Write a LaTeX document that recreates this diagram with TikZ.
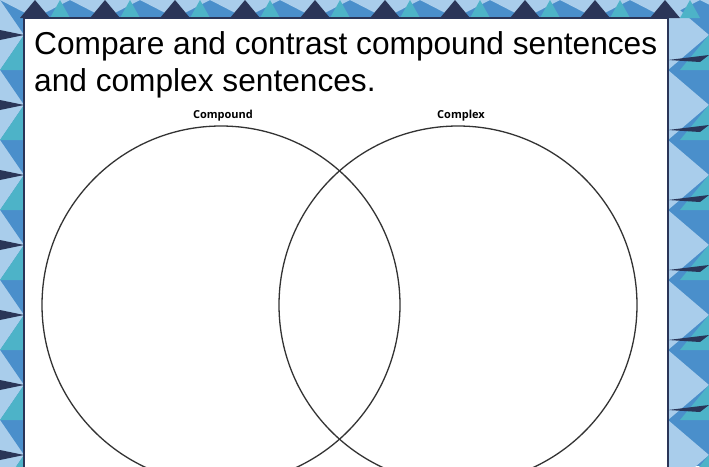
\documentclass[tikz,border=0pt]{standalone}
\usepackage{graphicx}
\usepackage{fontspec}
\setmainfont{Liberation Sans}
\newfontfamily\lblfont{Open Sans}
\definecolor{bgA}{HTML}{A9CDEB}
\definecolor{bgB}{HTML}{4A8FCB}
\definecolor{bgC}{HTML}{4DB3C8}
\definecolor{bgD}{HTML}{2A3558}
\tikzset{panel/.style={draw=bgD,line width=2pt,fill=white},
  venn/.style={draw=black!80,line width=1.3pt},
  lbl/.style={font=\lblfont\bfseries\fontsize{11}{13}\selectfont}}
\newcommand{\titletext}{\fontsize{28}{35}\selectfont\begin{tabular}{@{}l@{}}Compare and contrast compound sentences\\[-3pt] and complex sentences.\end{tabular}}
\begin{document}
\begin{tikzpicture}[x=1pt,y=-1pt]
\useasboundingbox (0,0) rectangle (709,466);
\fill[bgB] (0,0) rectangle (709,466);
\foreach \i in {0,...,6}{
  \pgfmathsetmacro{\y}{\i*70}
  \fill[bgA] (0,\y) -- (24,\y+35) -- (0,\y+70) -- cycle;
  \fill[bgD] (24,\y+35) -- (0,\y+30) -- (0,\y+40) -- cycle;
  \fill[bgC] (0,\y+70) -- (24,\y+35) -- (24,\y+70) -- cycle;
}
\foreach \i in {0,...,6}{
  \pgfmathsetmacro{\y}{\i*70}
  \fill[bgA] (668,\y) -- (709,\y+35) -- (668,\y+70) -- cycle;
  \fill[bgC] (709,\y+35) -- (709,\y+70) -- (680,\y+70) -- cycle;
  \fill[bgD] (668,\y+60) -- (709,\y+55) -- (700,\y+62) -- cycle;
}
\foreach \i in {0,...,10}{
  \pgfmathsetmacro{\x}{\i*70}
  \fill[bgA] (\x,0) -- (\x+35,18) -- (\x+70,0) -- cycle;
  \fill[bgD] (\x+20,18) -- (\x+35,0) -- (\x+50,18) -- cycle;
  \fill[bgC] (\x+50,18) -- (\x+60,0) -- (\x+70,18) -- cycle;
}
\draw[panel] (24,18) rectangle (668,470);
\node[anchor=north west,inner sep=0pt] (title) at (34,27) {\resizebox{623pt}{!}{\titletext}};
\node[lbl] (l1) at (223,116) {Compound};
\node[lbl] (l2) at (461,116) {Complex};
\draw[venn] (221,305) circle[radius=179];
\draw[venn] (458,305) circle[radius=179];
\end{tikzpicture}
\end{document}
